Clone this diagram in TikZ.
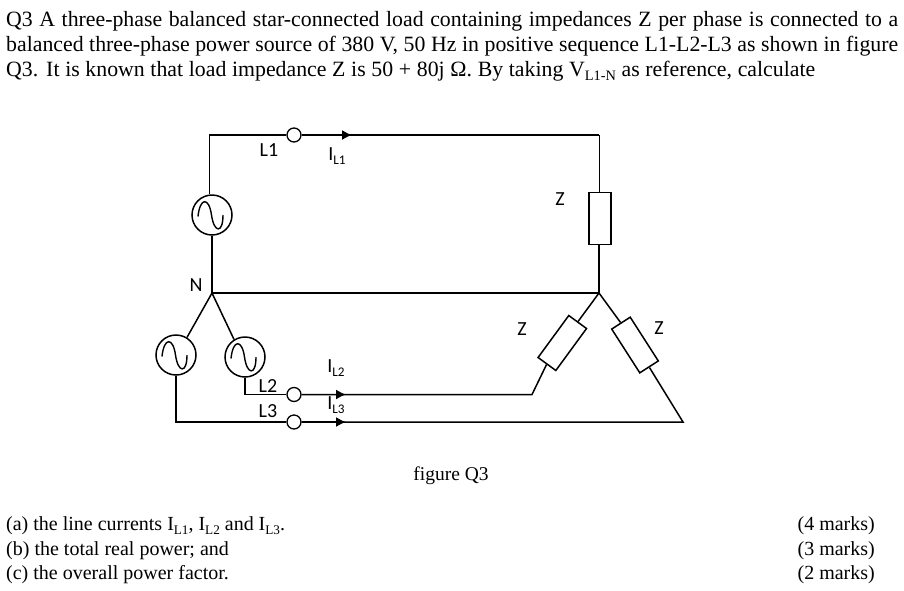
\documentclass[tikz,border=0pt]{standalone}
\usepackage{fontspec}
\setmainfont{Liberation Serif}
\newfontfamily\labelfont{Carlito}
\usetikzlibrary{arrows.meta}
\newcommand{\lowsub}[1]{\raisebox{-0.2em}{\scalebox{0.66}{#1}}}
\newcommand{\linecur}[1]{I\lowsub{L#1}}
\tikzset{
    wire/.style={line width=1.5pt},
    thinwire/.style={line width=0.9pt},
    arrowwire/.style={wire, -{Latex[length=10pt,width=10pt]}},
    acsource/.style={draw, line width=1.5pt, circle, minimum size=40pt, inner sep=0pt,
        path picture={
            \draw[line width=1.4pt, shift={(path picture bounding box.center)}]
                (-14pt,-1.5pt) .. controls (-12pt,18pt) and (-3pt,18pt) .. (-0.5pt,0pt)
                .. controls (2pt,-18pt) and (11pt,-19pt) .. (11pt,0pt);
        }
    },
    terminal/.style={draw, line width=1.3pt, circle, minimum size=14pt, inner sep=0pt},
    load/.style={draw, line width=1.5pt, rectangle, minimum width=22pt, minimum height=52pt, inner sep=0pt},
    cctlabel/.style={font=\labelfont\fontsize{20}{24}\selectfont, inner sep=0pt},
    qline/.style={font=\fontsize{21.8}{25}\selectfont, inner sep=0pt, anchor=base west},
    qtext/.style={font=\fontsize{20}{25}\selectfont, inner sep=0pt, anchor=west}
}
\begin{document}
\begin{tikzpicture}[x=1pt,y=-1pt]
    \useasboundingbox (0,0) rectangle (904,590);

    % question
    \node[qline] (lineA) at (6,26) {\makebox[892pt][s]{Q3 A three-phase balanced star-connected load containing impedances Z per phase is connected to a}};
    \node[qline] (lineB) at (6,51) {\makebox[892pt][s]{balanced three-phase power source of 380 V, 50 Hz in positive sequence L1-L2-L3 as shown in figure}};
    \node[qline] (lineC) at (6,76) {\makebox[809pt][s]{Q3. It is known that load impedance Z is 50 + 80j Ω. By taking V\lowsub{L1-N} as reference, calculate}};

    % sources and terminals
    \coordinate (nN) at (212,293);
    \node[acsource] (srcA) at (212,215) {};
    \node[acsource] (srcB) at (176,355) {};
    \node[acsource] (srcC) at (245,357) {};
    \node[terminal] (termA) at (294,135) {};
    \node[terminal] (termB) at (294,394.5) {};
    \node[terminal] (termC) at (294,422) {};

    % load
    \coordinate (nS) at (599,293);
    \coordinate (cornerA) at (599,135);
    \coordinate (cornerB) at (532,394.5);
    \coordinate (cornerC) at (683,422);
    \coordinate (tipA) at (352,135);
    \coordinate (tipB) at (346,394.5);
    \coordinate (tipC) at (346,422);
    \node[load] (zA) at (600,218.5) {};
    \node[load, rotate=-36.2] (zB) at (562.3,343) {};
    \node[load, rotate=32.7] (zC) at (635,345) {};

    \draw[wire] (srcA.97) |- (termA);
    \draw[wire] (termA) -- (cornerA);
    \draw[arrowwire] (termA) -- (tipA);
    \draw[thinwire] (cornerA) -- (cornerA |- zA.north);
    \draw[wire] (zA.south -| nS) -- (nS);

    \draw[wire] (srcA) -- (nN) -- (nS);
    \draw[wire] (nN) -- (srcB.58);
    \draw[wire] (nN) -- (srcC.122);

    \draw[wire] (srcC.south) |- (termB);
    \draw[wire] (termB) -- (cornerB) -- (zB.south);
    \draw[arrowwire] (termB) -- (tipB);
    \draw[wire] (zB.north) -- (nS);

    \draw[wire] (srcB.south) |- (termC);
    \draw[wire] (termC) -- (cornerC) -- (zC.south);
    \draw[arrowwire] (termC) -- (tipC);
    \draw[wire] (zC.north) -- (nS);

    % labels
    \node[cctlabel] (lblN) at (196,285) {N};
    \node[cctlabel] (lblA) at (269,150) {L1};
    \node[cctlabel] (lblB) at (268,386) {L2};
    \node[cctlabel] (lblC) at (268,411) {L3};
    \node[cctlabel] (curA) at (337,156) {\linecur{1}};
    \node[cctlabel] (curB) at (336,368) {\linecur{2}};
    \node[cctlabel] (curC) at (336,405) {\linecur{3}};
    \node[cctlabel] (lblZa) at (560,199) {Z};
    \node[cctlabel] (lblZb) at (522,329) {Z};
    \node[cctlabel] (lblZc) at (659,328) {Z};
    \node[font=\fontsize{19.5}{24}\selectfont, inner sep=0pt] (caption) at (451,476) {figure Q3};

    % parts and marks
    \node[qtext] (partA) at (6,526) {(a) the line currents \linecur{1}, \linecur{2} and \linecur{3}.};
    \node[qtext] (partB) at (6,550.5) {(b) the total real power; and};
    \node[qtext] (partC) at (6,575) {(c) the overall power factor.};
    \node[qtext, anchor=east] (markA) at (875,526) {(4 marks)};
    \node[qtext, anchor=east] (markB) at (875,550.5) {(3 marks)};
    \node[qtext, anchor=east] (markC) at (875,575) {(2 marks)};
\end{tikzpicture}
\end{document}
